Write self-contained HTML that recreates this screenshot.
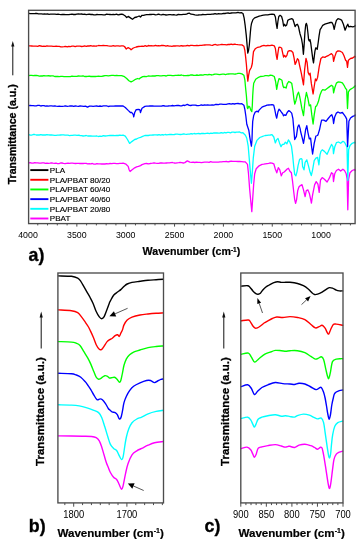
<!DOCTYPE html>
<html><head><meta charset="utf-8"><title>FTIR spectra</title>
<style>html,body{margin:0;padding:0;background:#fff;}body{width:362px;height:550px;position:relative;overflow:hidden;}</style>
</head><body>
<svg width="362" height="550" viewBox="0 0 362 550" style="position:absolute;left:0;top:0">
<polyline points="28.6,162.8 30.1,162.6 31.7,163.1 33.2,163.1 34.7,162.7 36.2,162.9 37.8,162.9 39.3,163.1 40.8,163.2 42.4,162.8 43.9,162.8 45.4,163.3 46.9,163.1 48.5,163.4 50.0,163.2 51.5,162.9 53.0,163.2 54.5,163.4 56.0,163.1 57.5,163.6 59.0,163.6 60.5,163.0 62.0,163.0 63.5,163.4 65.0,163.7 66.5,163.3 68.0,163.2 69.5,163.3 71.0,163.1 72.5,163.2 74.0,163.4 75.5,163.5 77.0,163.3 78.5,163.3 80.0,163.5 81.5,163.3 83.1,163.5 84.6,163.4 86.2,163.3 87.7,163.9 89.2,163.7 90.8,163.8 92.3,163.5 93.8,164.1 95.4,164.1 96.9,163.6 98.5,163.8 100.0,163.9 101.7,164.0 103.3,163.9 105.0,164.0 106.7,163.6 108.3,163.8 110.0,163.5 111.6,163.6 113.3,163.3 114.9,163.4 116.5,163.6 118.2,163.6 119.8,163.3 121.5,163.3 123.1,163.2 126.0,164.2 128.2,166.4 129.2,170.0 130.1,171.5 131.8,170.0 134.7,167.8 136.6,166.8 138.4,166.4 140.5,165.6 142.0,164.6 144.9,163.7 146.6,163.5 148.3,163.8 150.0,163.5 151.0,163.3 152.5,163.2 154.1,163.0 155.6,163.2 157.1,163.3 158.7,163.3 160.2,163.0 161.8,163.0 163.3,163.1 164.8,163.2 166.4,163.0 167.9,162.9 169.4,162.9 171.0,162.6 172.5,162.5 174.0,163.0 175.6,163.1 177.1,162.8 178.7,162.7 180.2,162.5 181.7,162.7 183.3,163.0 184.8,162.6 187.3,160.9 189.8,162.1 191.5,162.3 193.1,162.2 194.8,162.5 196.5,162.1 198.1,162.4 199.8,162.4 201.4,162.7 202.9,162.4 204.5,162.2 206.0,162.1 207.6,162.2 209.1,162.4 210.7,161.7 212.2,162.2 213.8,162.2 215.3,162.2 216.9,162.1 218.4,162.1 220.0,161.8 221.6,161.8 223.2,161.7 224.8,161.6 226.4,161.3 228.0,161.8 229.6,161.5 231.2,161.2 232.8,161.4 234.4,161.3 236.0,161.3 238.0,161.5 239.8,161.5 241.7,161.6 243.5,161.8 245.3,161.9 247.5,164.4 248.5,173.8 249.6,188.4 250.8,201.5 251.8,211.6 252.8,197.1 253.7,184.0 254.7,173.8 256.2,168.7 259.1,165.8 262.0,164.4 263.7,164.2 265.3,163.9 267.0,163.6 268.7,163.4 270.3,162.9 272.0,163.1 273.8,163.8 275.3,169.0 276.8,172.8 278.3,167.6 279.8,169.8 281.3,175.8 282.7,172.8 284.2,172.0 285.7,170.5 287.2,169.0 288.4,168.3 289.9,171.3 291.4,172.8 292.6,181.7 293.6,190.7 294.7,199.6 295.6,203.4 296.6,199.6 297.7,190.7 298.9,187.0 300.4,185.5 302.0,184.7 303.5,189.9 305.1,196.5 306.3,190.7 307.9,189.9 309.3,193.2 310.6,199.0 311.4,203.2 312.6,194.9 314.6,184.9 316.2,181.6 317.9,184.1 319.2,192.4 320.5,180.0 322.2,177.6 324.4,179.3 327.1,182.0 329.3,178.2 331.5,172.7 332.9,173.8 333.5,181.5 334.7,173.8 336.4,170.5 338.5,169.2 340.7,171.1 342.9,169.2 344.5,170.5 346.2,173.8 347.1,179.0 347.8,209.8 348.6,179.3 350.0,172.7 352.2,170.5 354.9,169.4 355.1,170.5" fill="none" stroke="#ff00ff" stroke-width="1.3" stroke-linejoin="round" stroke-linecap="round"/>
<polyline points="28.6,134.7 30.1,135.0 31.7,135.1 33.2,134.5 34.7,134.5 36.2,135.0 37.8,135.0 39.3,135.0 40.8,134.7 42.4,135.0 43.9,135.0 45.4,135.0 46.9,134.7 48.5,134.9 50.0,135.0 51.5,135.0 53.0,135.2 54.5,135.4 56.0,135.4 57.5,135.2 59.0,135.1 60.5,135.0 62.0,134.9 63.5,134.9 65.0,135.2 66.5,135.1 68.0,135.2 69.5,135.6 71.0,135.4 72.5,135.4 74.0,135.2 75.5,135.1 77.0,135.3 78.5,135.2 80.0,135.5 81.5,135.6 83.1,136.0 84.6,135.8 86.2,135.5 87.7,136.0 89.2,136.0 90.8,136.0 92.3,136.2 93.8,136.2 95.4,136.2 96.9,136.0 98.5,136.5 100.0,136.2 101.7,136.4 103.3,135.7 105.0,136.0 106.7,135.9 108.3,135.6 110.0,135.5 111.6,135.5 113.3,135.4 114.9,135.6 116.5,135.3 118.2,135.5 119.8,135.1 121.5,135.4 123.1,135.1 125.3,136.1 127.5,139.5 129.6,143.4 131.8,141.6 134.7,139.5 136.6,139.0 138.4,138.0 140.5,137.3 142.7,136.4 144.9,135.5 146.6,135.4 148.3,135.5 150.0,135.1 151.5,135.2 153.0,135.0 154.6,134.8 156.1,134.8 157.6,135.0 159.1,134.6 160.7,135.1 162.2,134.6 163.7,135.0 165.2,134.5 166.7,134.9 168.3,134.7 169.8,134.5 171.3,134.5 172.8,134.6 174.3,134.5 175.9,134.2 177.4,134.1 178.9,134.3 180.4,134.5 182.0,134.3 183.5,133.8 185.0,134.1 186.5,134.3 188.0,134.2 189.6,134.2 191.1,133.7 192.6,134.0 194.1,133.5 195.7,133.9 197.2,133.6 198.7,133.5 200.2,133.9 201.7,133.3 203.3,133.5 204.8,133.7 206.3,133.3 207.8,133.2 209.3,133.6 210.9,133.2 212.4,133.4 213.9,132.9 215.4,133.0 217.0,132.9 218.5,133.2 220.0,133.0 221.5,132.6 223.0,133.2 224.5,132.5 226.0,132.9 227.5,132.3 229.0,132.4 230.5,132.8 232.0,132.2 233.5,132.2 235.0,132.5 236.5,132.2 238.0,132.2 239.6,132.0 241.3,132.9 242.9,132.7 245.4,135.2 246.7,138.0 248.2,146.2 249.3,159.3 250.4,172.4 251.4,183.3 252.3,172.4 253.3,157.8 254.7,146.2 256.9,140.4 259.8,137.5 262.0,136.7 263.7,136.0 265.3,135.5 267.0,135.4 268.7,135.1 270.3,135.0 272.0,134.7 273.8,137.0 275.3,142.9 276.5,139.9 278.0,138.4 279.5,142.9 281.0,146.7 282.4,144.4 283.9,144.4 285.4,142.2 286.9,143.7 288.4,139.9 289.9,142.2 291.4,145.9 292.6,154.9 293.6,165.3 294.7,174.3 295.9,175.8 297.1,171.3 298.1,165.3 299.6,159.3 301.1,158.6 302.0,159.3 302.6,166.5 304.0,169.8 305.1,162.3 306.8,159.9 308.4,165.7 310.1,172.3 311.3,175.6 312.6,169.8 314.2,160.7 315.9,158.2 317.6,157.4 318.9,164.8 320.0,154.9 320.9,151.4 322.2,149.8 324.4,151.4 327.1,154.2 329.3,149.3 331.5,144.4 332.9,146.5 333.5,153.6 334.7,147.1 336.4,142.7 338.5,142.0 340.7,143.3 342.9,141.3 344.5,142.2 346.2,145.5 347.0,147.6 347.8,180.3 348.6,149.8 350.0,145.5 352.2,143.3 354.9,142.2 355.1,143.0" fill="none" stroke="#00ffff" stroke-width="1.3" stroke-linejoin="round" stroke-linecap="round"/>
<polyline points="28.6,105.6 30.1,105.4 31.7,105.7 33.2,105.6 34.7,105.8 36.2,105.8 37.8,105.4 39.3,105.4 40.8,106.0 42.4,105.6 43.9,105.6 45.4,106.2 46.9,105.8 48.5,106.1 50.0,105.9 51.6,105.9 53.1,106.1 54.7,105.8 56.2,106.1 57.8,106.3 59.3,106.1 60.9,106.3 62.4,106.3 64.0,106.2 65.6,105.9 67.2,106.3 68.8,106.2 70.4,106.0 72.0,105.8 73.6,106.3 75.2,106.0 76.8,106.2 78.4,106.3 80.0,106.0 81.8,106.2 83.7,106.4 85.5,106.2 87.5,107.2 89.5,106.2 91.3,106.1 93.2,106.3 95.0,106.1 96.7,106.0 98.3,106.3 100.0,106.0 101.7,106.3 103.3,105.8 105.0,105.8 106.7,105.9 108.3,106.5 110.0,106.2 111.8,106.1 113.7,106.2 115.5,105.9 117.3,106.0 119.2,106.0 121.2,105.9 123.1,106.0 125.3,107.5 128.2,110.4 130.4,112.5 131.8,112.5 133.3,114.7 133.7,116.9 134.7,112.5 136.2,109.6 138.4,109.3 139.8,109.6 140.5,112.5 141.0,111.1 142.0,108.2 144.9,106.4 146.6,106.2 148.3,106.2 150.0,106.0 151.0,106.0 152.5,106.0 154.1,106.2 155.6,106.1 157.1,106.2 158.7,106.1 160.2,106.2 161.8,106.0 163.3,105.6 164.8,106.0 166.4,106.1 167.9,106.0 169.4,105.8 171.0,105.9 172.5,105.5 174.0,105.9 175.6,105.7 177.1,105.5 178.7,105.3 180.2,105.8 181.7,105.9 183.3,105.2 184.8,105.5 187.3,104.3 189.3,105.3 190.8,105.5 192.3,105.2 193.8,105.1 195.3,105.2 196.8,105.5 198.3,105.6 199.8,105.3 201.4,104.9 202.9,105.3 204.5,104.8 206.0,105.2 207.6,104.9 209.1,105.2 210.7,105.2 212.2,104.8 213.8,105.1 215.3,104.5 216.8,104.3 218.4,104.6 219.9,104.2 221.5,104.2 223.1,104.3 224.6,104.3 226.2,104.3 227.9,103.9 229.5,103.7 231.1,104.2 232.7,103.7 234.4,104.0 236.0,103.6 238.0,103.5 239.9,103.9 241.9,103.7 243.9,105.2 244.9,109.6 245.9,116.5 246.8,124.3 247.8,127.3 248.8,130.2 249.8,137.1 250.6,142.0 251.4,146.2 252.0,140.0 252.3,130.2 252.7,121.4 253.7,115.5 255.2,112.1 257.2,111.1 258.2,112.1 259.1,110.1 262.0,107.1 263.7,106.4 265.3,105.8 267.0,105.2 268.7,105.0 270.3,104.9 272.0,104.6 273.7,105.2 274.8,109.7 275.9,115.4 276.7,118.2 277.9,112.0 279.0,109.2 280.5,110.8 281.6,112.5 282.7,113.7 283.5,115.9 284.6,114.8 285.8,115.4 287.2,112.5 288.7,110.6 290.0,111.4 291.7,113.1 292.9,118.7 293.6,126.6 294.7,139.5 296.4,136.4 297.7,127.3 298.5,125.5 299.0,124.9 300.2,128.9 300.6,131.5 302.3,138.1 303.5,143.3 304.6,136.6 305.6,129.8 306.8,125.7 307.9,132.3 309.3,138.9 310.6,138.1 311.5,146.0 312.6,154.0 314.2,143.3 315.9,136.0 317.6,135.5 318.4,133.4 319.5,129.8 320.9,123.2 321.6,120.2 323.8,120.2 326.0,121.3 328.2,118.5 330.4,115.8 331.8,114.7 332.9,118.0 333.6,123.5 334.7,116.9 336.4,113.1 338.0,112.0 340.2,113.1 342.4,112.5 344.0,114.7 345.6,116.9 346.7,119.1 347.6,146.5 348.9,121.3 350.5,118.0 352.7,116.4 354.9,115.6 355.1,114.9" fill="none" stroke="#0000ff" stroke-width="1.3" stroke-linejoin="round" stroke-linecap="round"/>
<polyline points="28.6,75.6 30.1,75.4 31.7,75.4 33.2,75.6 34.7,75.5 36.2,75.4 37.8,75.7 39.3,76.1 40.8,76.0 42.4,76.0 43.9,75.7 45.4,75.9 46.9,75.8 48.5,75.7 50.0,76.0 51.6,75.8 53.1,75.9 54.7,76.5 56.2,76.5 57.8,76.5 59.3,76.6 60.9,76.3 62.4,76.4 64.0,76.6 65.6,76.6 67.2,76.7 68.8,76.7 70.4,76.7 72.0,76.1 73.6,76.4 75.2,76.4 76.8,76.3 78.4,76.0 80.0,76.2 81.5,76.2 83.1,75.9 84.6,76.5 86.2,76.5 87.7,76.3 89.2,76.1 90.8,76.5 92.3,76.3 93.8,76.5 95.4,76.5 96.9,76.3 98.5,76.2 100.0,76.3 101.7,76.3 103.3,76.0 105.0,75.7 106.7,75.7 108.3,75.9 110.0,75.6 111.7,75.3 113.3,75.3 115.0,75.7 116.6,75.4 118.3,75.6 119.9,75.6 121.6,75.6 124.5,76.7 126.7,78.5 128.9,80.7 131.1,81.9 133.3,80.7 135.5,79.3 137.6,78.5 139.1,79.0 140.5,77.8 142.7,76.7 144.5,76.4 146.3,76.7 148.2,76.0 150.0,76.1 151.7,76.0 153.3,75.8 155.0,76.0 156.7,75.7 158.3,75.7 160.0,75.8 161.5,75.9 163.1,75.6 164.6,75.7 166.2,76.0 167.7,75.4 169.2,75.3 170.8,75.4 172.3,75.7 173.8,75.6 175.4,75.3 176.9,75.3 178.5,75.2 180.0,75.4 181.5,75.0 183.1,75.5 184.6,75.6 186.2,75.6 187.7,75.4 189.2,75.5 190.8,74.8 192.3,75.0 193.8,75.4 195.4,75.3 196.9,75.0 198.5,75.3 200.0,75.0 201.5,75.0 203.0,75.1 204.5,74.7 206.0,74.6 207.5,74.8 209.0,74.5 210.5,74.6 212.0,75.0 213.5,74.5 215.0,74.2 216.5,74.2 218.0,74.3 219.5,74.7 221.0,74.3 222.5,74.2 224.0,74.1 225.5,74.6 227.0,74.2 228.5,74.0 230.0,73.9 231.5,73.8 233.0,73.9 234.5,74.2 236.0,74.0 238.0,73.4 239.9,73.4 241.9,73.9 243.9,75.3 244.9,80.2 245.4,86.0 246.4,95.8 247.3,107.6 247.8,108.6 248.8,106.2 249.8,107.1 250.8,110.1 251.8,111.6 252.3,105.7 252.7,95.8 253.2,88.0 253.7,83.2 255.7,79.3 258.6,77.3 260.3,76.5 262.0,76.3 263.7,76.1 265.3,75.7 267.0,75.7 268.7,75.9 270.3,75.2 272.0,75.3 274.3,76.5 275.6,81.5 276.7,89.4 277.9,82.7 279.0,78.7 280.5,79.3 281.9,80.2 283.0,86.0 283.8,87.7 285.0,87.2 286.1,88.1 287.2,83.8 288.7,81.5 290.0,82.1 291.7,83.2 292.9,90.5 294.0,99.6 294.8,104.1 295.9,100.7 297.4,94.5 298.5,92.2 299.6,96.2 300.7,101.8 301.8,108.2 303.5,115.7 305.1,100.0 306.4,92.5 307.9,98.3 309.3,105.8 310.6,104.9 311.8,114.9 313.1,124.0 314.2,114.9 315.6,106.6 316.7,105.8 318.4,101.6 320.0,95.0 321.7,90.8 322.7,89.6 324.9,90.2 327.1,88.5 329.3,86.9 331.5,85.3 332.9,86.4 333.6,92.9 334.7,88.0 336.4,83.1 338.0,82.0 340.2,82.2 342.4,82.9 344.0,85.3 345.6,88.5 346.7,89.6 347.5,108.5 348.4,91.8 350.0,89.6 352.7,88.0 354.9,86.4 355.1,85.7" fill="none" stroke="#00ff00" stroke-width="1.3" stroke-linejoin="round" stroke-linecap="round"/>
<polyline points="28.6,45.8 30.1,45.9 31.7,46.0 33.2,46.1 34.7,46.2 36.2,46.1 37.8,46.3 39.3,45.7 40.8,46.0 42.4,46.4 43.9,46.2 45.4,46.4 46.9,45.9 48.5,46.1 50.0,46.2 51.6,46.1 53.1,46.3 54.7,46.4 56.2,46.1 57.8,46.3 59.3,46.4 60.9,46.9 62.4,46.8 64.0,46.7 65.6,46.4 67.2,46.8 68.8,46.3 70.4,46.6 72.0,46.2 73.6,46.1 75.2,46.6 76.8,46.1 78.4,46.1 80.0,46.2 81.5,46.5 83.1,46.4 84.6,45.9 86.2,46.3 87.7,46.0 89.2,46.0 90.8,45.7 92.3,46.1 93.8,45.9 95.4,46.1 96.9,46.0 98.5,45.5 100.0,45.6 101.7,45.6 103.3,45.5 105.0,45.6 106.7,45.6 108.3,45.9 110.0,46.1 111.6,46.1 113.3,45.7 114.9,46.1 116.5,45.8 118.2,45.8 119.8,46.1 121.5,45.8 123.1,45.8 124.5,46.5 126.3,49.0 128.2,47.6 130.1,48.7 131.1,49.7 133.3,48.0 136.2,47.0 138.3,46.5 140.5,46.3 142.1,46.2 143.7,46.3 145.2,45.7 146.8,46.3 148.4,45.5 150.0,45.8 151.0,45.6 152.5,45.8 154.0,45.9 155.5,45.3 157.0,45.9 158.5,45.6 160.0,45.8 161.5,45.4 163.0,45.5 164.5,45.6 166.0,46.2 167.5,45.7 169.0,46.1 170.5,46.2 172.0,46.3 173.5,45.9 175.0,46.0 176.6,45.9 178.1,45.9 179.7,46.1 181.2,45.6 182.8,46.0 184.4,45.9 185.9,45.9 187.5,45.3 189.1,45.9 190.6,45.3 192.2,45.4 193.8,45.6 195.3,45.7 196.9,45.3 198.4,45.6 200.0,45.3 201.6,45.3 203.1,45.1 204.7,45.0 206.2,44.9 207.8,44.8 209.4,44.8 210.9,45.1 212.5,45.3 214.1,44.7 215.6,44.5 217.2,45.2 218.8,44.8 220.3,44.7 221.9,44.5 223.4,44.7 225.0,44.6 226.6,44.8 228.1,44.5 229.7,44.5 231.3,44.2 232.9,44.7 234.4,44.1 236.0,44.4 238.0,44.7 239.9,44.8 241.9,44.9 243.9,46.3 244.9,50.7 245.7,57.6 246.4,64.5 247.0,72.4 247.8,81.2 248.6,75.3 249.6,70.4 251.3,67.5 252.3,63.5 252.8,57.6 253.5,51.7 255.2,48.8 257.7,47.3 259.9,46.8 262.0,45.8 263.9,45.4 265.8,45.8 267.7,45.5 269.9,45.7 272.0,45.2 274.3,45.8 275.4,48.6 276.3,55.4 277.1,59.3 277.9,53.1 278.8,47.5 280.1,47.2 281.6,48.0 282.7,53.1 283.6,57.0 284.6,55.4 285.8,57.0 286.9,55.4 288.0,51.4 289.5,50.6 291.2,50.8 292.9,52.5 294.0,57.6 295.1,64.4 296.2,62.1 297.4,58.7 298.5,59.9 299.6,65.5 301.3,73.2 303.5,84.8 304.6,69.9 306.0,58.3 307.1,62.4 308.1,72.4 309.3,74.9 310.1,73.2 311.3,83.2 313.1,94.0 314.2,86.5 315.4,79.0 316.4,80.7 317.6,77.4 319.2,66.6 320.9,58.5 322.7,56.9 324.9,57.4 326.5,56.3 328.7,55.3 331.5,53.6 332.9,55.3 333.6,61.3 334.7,56.9 336.4,52.0 338.0,50.9 340.2,51.2 342.4,52.5 344.0,55.8 345.6,60.2 346.7,61.3 347.5,67.3 348.4,60.2 350.5,58.5 352.7,58.0 354.9,56.3 355.1,57.0" fill="none" stroke="#ff0000" stroke-width="1.3" stroke-linejoin="round" stroke-linecap="round"/>
<polyline points="28.6,13.4 30.2,13.7 31.9,13.7 33.5,13.6 35.1,13.5 36.7,13.3 38.4,13.9 40.0,13.8 41.5,13.8 43.0,14.1 44.5,13.8 46.0,14.1 47.5,13.8 49.0,14.3 50.5,14.2 52.0,14.1 53.5,14.2 55.0,14.2 56.5,14.4 58.0,14.1 59.5,14.4 61.0,14.6 62.5,14.3 64.0,14.5 65.6,14.7 67.2,14.6 68.8,14.7 70.4,14.3 72.0,14.1 73.6,14.5 75.2,14.5 76.8,14.2 78.4,13.9 80.0,14.2 81.5,14.0 83.1,14.4 84.6,14.1 86.2,14.6 87.7,14.4 89.2,14.2 90.8,14.5 92.3,14.3 93.8,14.8 95.4,14.8 96.9,14.5 98.5,14.7 100.0,14.6 101.7,14.7 103.3,14.8 105.0,14.9 106.7,14.2 108.3,14.4 110.0,14.5 111.6,14.6 113.3,14.4 114.9,14.6 116.5,14.2 118.2,14.8 119.8,14.5 121.5,14.2 123.1,14.5 125.3,16.0 126.7,17.5 128.2,16.4 130.4,17.9 132.5,19.3 134.7,17.5 136.9,17.0 139.1,16.0 140.5,17.0 142.0,15.3 143.6,15.3 145.2,14.8 146.8,14.6 148.4,14.6 150.0,14.5 151.0,14.5 152.5,14.3 154.0,14.3 155.5,14.8 157.0,14.7 158.5,14.2 160.0,14.6 161.5,14.8 163.0,14.3 164.5,14.6 166.0,15.0 167.5,14.8 169.0,14.6 170.5,14.7 172.0,14.8 173.5,14.6 175.0,14.9 176.7,15.2 178.3,14.4 180.0,14.6 181.7,14.7 183.3,14.4 185.0,14.4 186.5,14.2 188.0,13.4 189.5,13.2 191.0,14.2 193.0,14.3 195.0,14.8 196.5,15.1 198.1,15.0 199.6,14.8 201.2,14.9 202.7,14.5 204.3,14.7 205.8,14.6 207.4,14.4 208.9,14.3 210.5,14.4 212.0,14.2 213.6,14.0 215.2,13.7 216.9,14.1 218.5,13.7 220.1,13.8 221.8,13.9 223.4,13.4 225.0,13.5 226.6,13.1 228.1,13.0 229.7,13.3 231.3,13.0 232.9,12.8 234.4,12.9 236.0,12.8 238.0,12.4 239.7,12.8 241.3,12.6 243.0,13.5 244.1,17.9 245.2,25.7 246.3,35.6 247.1,45.0 247.8,53.2 248.6,50.0 249.3,45.0 249.9,38.0 250.4,32.0 250.9,27.0 251.5,23.5 252.9,19.6 254.6,17.9 257.3,16.8 259.2,16.1 261.2,15.7 263.4,15.2 265.6,14.9 267.8,14.9 270.0,14.4 272.0,14.2 274.3,14.5 275.4,17.0 276.3,23.8 277.1,28.3 277.9,21.5 278.8,16.5 280.1,15.3 281.6,16.5 282.7,20.4 283.6,26.0 284.6,24.3 285.5,26.0 286.7,24.9 287.8,20.4 289.5,19.3 291.7,18.7 292.9,19.3 294.0,22.7 295.1,26.6 296.2,24.9 297.4,24.3 298.5,26.6 299.4,31.0 300.0,33.7 301.5,38.6 302.5,44.5 303.4,54.3 304.1,45.4 304.9,32.7 305.7,24.8 306.4,23.4 307.1,25.8 307.9,32.7 308.6,39.6 309.3,41.0 310.0,39.6 310.8,43.5 311.8,51.3 312.8,59.2 313.5,62.9 314.2,57.2 314.9,51.3 315.7,47.9 316.5,48.4 317.2,49.4 318.2,42.5 319.1,35.6 320.1,29.7 321.1,28.2 322.7,25.3 324.9,24.2 326.5,23.6 328.2,23.1 330.4,22.5 332.0,22.5 333.1,24.7 334.2,29.4 335.3,24.2 336.4,20.4 338.0,18.7 340.2,19.3 341.8,20.4 343.4,24.2 345.1,30.2 346.4,26.9 347.8,24.2 348.9,26.9 350.5,26.4 352.7,26.9 354.9,26.4 355.1,25.5" fill="none" stroke="#000000" stroke-width="1.3" stroke-linejoin="round" stroke-linecap="round"/>
<line x1="30.3" y1="170.10" x2="48.4" y2="170.10" stroke="#000000" stroke-width="1.9"/>
<text x="49.8" y="173.0" font-family="'Liberation Sans', Arial, sans-serif" font-size="8.1" fill="#000" stroke="#000" stroke-width="0.15">PLA</text>
<line x1="30.3" y1="179.78" x2="48.4" y2="179.78" stroke="#ff0000" stroke-width="1.9"/>
<text x="49.8" y="182.7" font-family="'Liberation Sans', Arial, sans-serif" font-size="8.1" fill="#000" stroke="#000" stroke-width="0.15">PLA/PBAT 80/20</text>
<line x1="30.3" y1="189.46" x2="48.4" y2="189.46" stroke="#00ff00" stroke-width="1.9"/>
<text x="49.8" y="192.4" font-family="'Liberation Sans', Arial, sans-serif" font-size="8.1" fill="#000" stroke="#000" stroke-width="0.15">PLA/PBAT 60/40</text>
<line x1="30.3" y1="199.14" x2="48.4" y2="199.14" stroke="#0000ff" stroke-width="1.9"/>
<text x="49.8" y="202.0" font-family="'Liberation Sans', Arial, sans-serif" font-size="8.1" fill="#000" stroke="#000" stroke-width="0.15">PLA/PBAT 40/60</text>
<line x1="30.3" y1="208.82" x2="48.4" y2="208.82" stroke="#00ffff" stroke-width="1.9"/>
<text x="49.8" y="211.7" font-family="'Liberation Sans', Arial, sans-serif" font-size="8.1" fill="#000" stroke="#000" stroke-width="0.15">PLA/PBAT 20/80</text>
<line x1="30.3" y1="218.50" x2="48.4" y2="218.50" stroke="#ff00ff" stroke-width="1.9"/>
<text x="49.8" y="221.4" font-family="'Liberation Sans', Arial, sans-serif" font-size="8.1" fill="#000" stroke="#000" stroke-width="0.15">PBAT</text>
<rect x="28.6" y="10.3" width="326.5" height="213.3" fill="none" stroke="#4c4c4c" stroke-width="1.35"/>
<line x1="37.77" y1="223.6" x2="37.77" y2="225.4" stroke="#4c4c4c" stroke-width="1"/>
<line x1="47.54" y1="223.6" x2="47.54" y2="225.4" stroke="#4c4c4c" stroke-width="1"/>
<line x1="57.31" y1="223.6" x2="57.31" y2="225.4" stroke="#4c4c4c" stroke-width="1"/>
<line x1="67.08" y1="223.6" x2="67.08" y2="225.4" stroke="#4c4c4c" stroke-width="1"/>
<line x1="76.85" y1="223.6" x2="76.85" y2="226.6" stroke="#4c4c4c" stroke-width="1"/>
<line x1="86.62" y1="223.6" x2="86.62" y2="225.4" stroke="#4c4c4c" stroke-width="1"/>
<line x1="96.39" y1="223.6" x2="96.39" y2="225.4" stroke="#4c4c4c" stroke-width="1"/>
<line x1="106.16" y1="223.6" x2="106.16" y2="225.4" stroke="#4c4c4c" stroke-width="1"/>
<line x1="115.93" y1="223.6" x2="115.93" y2="225.4" stroke="#4c4c4c" stroke-width="1"/>
<line x1="125.70" y1="223.6" x2="125.70" y2="226.6" stroke="#4c4c4c" stroke-width="1"/>
<line x1="135.47" y1="223.6" x2="135.47" y2="225.4" stroke="#4c4c4c" stroke-width="1"/>
<line x1="145.24" y1="223.6" x2="145.24" y2="225.4" stroke="#4c4c4c" stroke-width="1"/>
<line x1="155.01" y1="223.6" x2="155.01" y2="225.4" stroke="#4c4c4c" stroke-width="1"/>
<line x1="164.78" y1="223.6" x2="164.78" y2="225.4" stroke="#4c4c4c" stroke-width="1"/>
<line x1="174.55" y1="223.6" x2="174.55" y2="226.6" stroke="#4c4c4c" stroke-width="1"/>
<line x1="184.32" y1="223.6" x2="184.32" y2="225.4" stroke="#4c4c4c" stroke-width="1"/>
<line x1="194.09" y1="223.6" x2="194.09" y2="225.4" stroke="#4c4c4c" stroke-width="1"/>
<line x1="203.86" y1="223.6" x2="203.86" y2="225.4" stroke="#4c4c4c" stroke-width="1"/>
<line x1="213.63" y1="223.6" x2="213.63" y2="225.4" stroke="#4c4c4c" stroke-width="1"/>
<line x1="223.40" y1="223.6" x2="223.40" y2="226.6" stroke="#4c4c4c" stroke-width="1"/>
<line x1="233.17" y1="223.6" x2="233.17" y2="225.4" stroke="#4c4c4c" stroke-width="1"/>
<line x1="242.94" y1="223.6" x2="242.94" y2="225.4" stroke="#4c4c4c" stroke-width="1"/>
<line x1="252.71" y1="223.6" x2="252.71" y2="225.4" stroke="#4c4c4c" stroke-width="1"/>
<line x1="262.48" y1="223.6" x2="262.48" y2="225.4" stroke="#4c4c4c" stroke-width="1"/>
<line x1="272.25" y1="223.6" x2="272.25" y2="226.6" stroke="#4c4c4c" stroke-width="1"/>
<line x1="282.02" y1="223.6" x2="282.02" y2="225.4" stroke="#4c4c4c" stroke-width="1"/>
<line x1="291.79" y1="223.6" x2="291.79" y2="225.4" stroke="#4c4c4c" stroke-width="1"/>
<line x1="301.56" y1="223.6" x2="301.56" y2="225.4" stroke="#4c4c4c" stroke-width="1"/>
<line x1="311.33" y1="223.6" x2="311.33" y2="225.4" stroke="#4c4c4c" stroke-width="1"/>
<line x1="321.10" y1="223.6" x2="321.10" y2="226.6" stroke="#4c4c4c" stroke-width="1"/>
<line x1="330.87" y1="223.6" x2="330.87" y2="225.4" stroke="#4c4c4c" stroke-width="1"/>
<line x1="340.64" y1="223.6" x2="340.64" y2="225.4" stroke="#4c4c4c" stroke-width="1"/>
<line x1="350.41" y1="223.6" x2="350.41" y2="225.4" stroke="#4c4c4c" stroke-width="1"/>
<text transform="translate(28.00,237.6) scale(1,1.05)" text-anchor="middle" font-family="'Liberation Sans', Arial, sans-serif" font-size="8.8" fill="#000">4000</text>
<text transform="translate(76.85,237.6) scale(1,1.05)" text-anchor="middle" font-family="'Liberation Sans', Arial, sans-serif" font-size="8.8" fill="#000">3500</text>
<text transform="translate(125.70,237.6) scale(1,1.05)" text-anchor="middle" font-family="'Liberation Sans', Arial, sans-serif" font-size="8.8" fill="#000">3000</text>
<text transform="translate(174.55,237.6) scale(1,1.05)" text-anchor="middle" font-family="'Liberation Sans', Arial, sans-serif" font-size="8.8" fill="#000">2500</text>
<text transform="translate(223.40,237.6) scale(1,1.05)" text-anchor="middle" font-family="'Liberation Sans', Arial, sans-serif" font-size="8.8" fill="#000">2000</text>
<text transform="translate(272.25,237.6) scale(1,1.05)" text-anchor="middle" font-family="'Liberation Sans', Arial, sans-serif" font-size="8.8" fill="#000">1500</text>
<text transform="translate(321.10,237.6) scale(1,1.05)" text-anchor="middle" font-family="'Liberation Sans', Arial, sans-serif" font-size="8.8" fill="#000">1000</text>
<text transform="translate(15.9,134.3) rotate(-90)" text-anchor="middle" font-family="'Liberation Sans', Arial, sans-serif" font-size="10.6" font-weight="bold" stroke="#000" stroke-width="0.3" fill="#000">Transmittance (a.u.)</text>
<line x1="12.8" y1="46" x2="12.8" y2="75.3" stroke="#111" stroke-width="1"/>
<polygon points="12.8,41 11.2,46.5 14.4,46.5" fill="#111"/>
<text x="191.4" y="255.4" text-anchor="middle" font-family="'Liberation Sans', Arial, sans-serif" font-size="10.65" font-weight="bold" stroke="#000" stroke-width="0.2" fill="#000">Wavenumber (cm<tspan font-size="6.5" dy="-3.5">-1</tspan><tspan dy="3.5">)</tspan></text>
<text x="28.5" y="261.2" font-family="'Liberation Sans', Arial, sans-serif" font-size="17.8" font-weight="bold" stroke="#000" stroke-width="0.35" fill="#000">a)</text>
<path d="M58.50,435.90 C62.47,435.95 76.78,436.10 82.30,436.20 C87.82,436.30 89.28,436.25 91.60,436.50 C93.92,436.75 94.92,436.98 96.20,437.70 C97.48,438.42 98.38,439.25 99.30,440.80 C100.22,442.35 100.92,444.67 101.70,447.00 C102.48,449.33 103.23,452.22 104.00,454.80 C104.77,457.38 105.58,460.38 106.30,462.50 C107.02,464.62 107.62,465.83 108.30,467.50 C108.98,469.17 109.52,470.87 110.40,472.50 C111.28,474.13 112.53,476.10 113.60,477.30 C114.67,478.50 115.87,478.50 116.80,479.70 C117.73,480.90 118.40,482.90 119.20,484.50 C120.00,486.10 120.93,489.17 121.60,489.30 C122.27,489.43 122.53,487.97 123.20,485.30 C123.87,482.63 124.80,476.90 125.60,473.30 C126.40,469.70 126.93,466.78 128.00,463.70 C129.07,460.62 130.53,456.95 132.00,454.80 C133.47,452.65 135.18,451.87 136.80,450.80 C138.42,449.73 139.82,449.33 141.70,448.40 C143.58,447.47 145.97,446.13 148.10,445.20 C150.23,444.27 151.97,443.42 154.50,442.80 C157.03,442.18 161.83,441.72 163.30,441.50" fill="none" stroke="#ff00ff" stroke-width="1.4" stroke-linejoin="round" stroke-linecap="round"/>
<path d="M58.50,404.80 C60.67,404.85 68.05,404.92 71.50,405.10 C74.95,405.28 76.62,405.43 79.20,405.90 C81.78,406.37 84.67,407.20 87.00,407.90 C89.33,408.60 91.27,409.32 93.20,410.10 C95.13,410.88 97.18,411.37 98.60,412.60 C100.02,413.83 100.67,415.13 101.70,417.50 C102.73,419.87 103.77,423.55 104.80,426.80 C105.83,430.05 106.97,434.07 107.90,437.00 C108.83,439.93 109.45,442.50 110.40,444.40 C111.35,446.30 112.53,447.33 113.60,448.40 C114.67,449.47 115.87,449.60 116.80,450.80 C117.73,452.00 118.40,454.13 119.20,455.60 C120.00,457.07 120.93,459.47 121.60,459.60 C122.27,459.73 122.67,458.67 123.20,456.40 C123.73,454.13 124.27,449.23 124.80,446.00 C125.33,442.77 125.73,439.87 126.40,437.00 C127.07,434.13 127.87,431.18 128.80,428.80 C129.73,426.42 130.67,424.33 132.00,422.70 C133.33,421.07 135.18,419.93 136.80,419.00 C138.42,418.07 139.82,417.97 141.70,417.10 C143.58,416.23 145.70,414.75 148.10,413.80 C150.50,412.85 153.57,411.98 156.10,411.40 C158.63,410.82 162.10,410.48 163.30,410.30" fill="none" stroke="#00ffff" stroke-width="1.4" stroke-linejoin="round" stroke-linecap="round"/>
<path d="M58.50,373.30 C60.67,373.37 68.57,373.43 71.50,373.70 C74.43,373.97 74.55,374.32 76.10,374.90 C77.65,375.48 79.25,376.03 80.80,377.20 C82.35,378.37 84.25,380.60 85.40,381.90 C86.55,383.20 86.80,383.72 87.70,385.00 C88.60,386.28 89.77,387.92 90.80,389.60 C91.83,391.28 92.87,393.42 93.90,395.10 C94.93,396.78 95.97,399.07 97.00,399.70 C98.03,400.33 99.20,398.90 100.10,398.90 C101.00,398.90 101.50,398.92 102.40,399.70 C103.30,400.48 104.52,402.13 105.50,403.60 C106.48,405.07 107.62,407.47 108.30,408.50 C108.98,409.53 108.98,409.23 109.60,409.80 C110.22,410.37 111.07,411.43 112.00,411.90 C112.93,412.37 114.32,412.15 115.20,412.60 C116.08,413.05 116.63,413.58 117.30,414.60 C117.97,415.62 118.62,418.15 119.20,418.70 C119.78,419.25 120.27,419.12 120.80,417.90 C121.33,416.68 121.87,413.95 122.40,411.40 C122.93,408.85 123.33,405.13 124.00,402.60 C124.67,400.07 125.47,398.20 126.40,396.20 C127.33,394.20 128.40,392.25 129.60,390.60 C130.80,388.95 131.87,387.58 133.60,386.30 C135.33,385.02 137.85,383.87 140.00,382.90 C142.15,381.93 144.75,380.90 146.50,380.50 C148.25,380.10 149.17,380.15 150.50,380.50 C151.83,380.85 153.30,382.52 154.50,382.60 C155.70,382.68 156.63,381.53 157.70,381.00 C158.77,380.47 159.97,379.75 160.90,379.40 C161.83,379.05 162.90,378.98 163.30,378.90" fill="none" stroke="#0000ff" stroke-width="1.4" stroke-linejoin="round" stroke-linecap="round"/>
<path d="M58.50,341.60 C60.67,341.68 68.57,341.83 71.50,342.10 C74.43,342.37 74.68,342.63 76.10,343.20 C77.52,343.77 78.70,344.08 80.00,345.50 C81.30,346.92 82.62,349.63 83.90,351.70 C85.18,353.77 86.55,355.83 87.70,357.90 C88.85,359.97 89.77,361.78 90.80,364.10 C91.83,366.42 93.00,369.62 93.90,371.80 C94.80,373.98 95.42,375.97 96.20,377.20 C96.98,378.43 97.82,379.02 98.60,379.20 C99.38,379.38 100.27,378.63 100.90,378.30 C101.53,377.97 101.75,377.63 102.40,377.20 C103.05,376.77 104.02,375.88 104.80,375.70 C105.58,375.52 106.33,375.72 107.10,376.10 C107.87,376.48 108.72,377.72 109.40,378.00 C110.08,378.28 110.37,377.92 111.20,377.80 C112.03,377.68 113.47,377.12 114.40,377.30 C115.33,377.48 116.00,378.10 116.80,378.90 C117.60,379.70 118.53,381.83 119.20,382.10 C119.87,382.37 120.27,381.97 120.80,380.50 C121.33,379.03 121.87,375.83 122.40,373.30 C122.93,370.77 123.33,367.72 124.00,365.30 C124.67,362.88 125.47,360.55 126.40,358.80 C127.33,357.05 128.40,355.92 129.60,354.80 C130.80,353.68 131.87,352.90 133.60,352.10 C135.33,351.30 137.58,350.75 140.00,350.00 C142.42,349.25 145.42,348.18 148.10,347.60 C150.78,347.02 153.57,346.77 156.10,346.50 C158.63,346.23 162.10,346.08 163.30,346.00" fill="none" stroke="#00ff00" stroke-width="1.4" stroke-linejoin="round" stroke-linecap="round"/>
<path d="M58.50,309.90 C60.67,310.03 68.30,310.25 71.50,310.70 C74.70,311.15 76.03,311.57 77.70,312.60 C79.37,313.63 80.22,315.28 81.50,316.90 C82.78,318.52 84.23,320.62 85.40,322.30 C86.57,323.98 87.73,325.72 88.50,327.00 C89.27,328.28 89.22,328.33 90.00,330.00 C90.78,331.67 92.17,334.55 93.20,337.00 C94.23,339.45 95.18,342.65 96.20,344.70 C97.22,346.75 98.38,348.53 99.30,349.30 C100.22,350.07 100.92,349.80 101.70,349.30 C102.48,348.80 103.10,347.58 104.00,346.30 C104.90,345.02 106.07,342.77 107.10,341.60 C108.13,340.43 109.38,339.82 110.20,339.30 C111.02,338.78 111.17,339.12 112.00,338.50 C112.83,337.88 114.27,336.22 115.20,335.60 C116.13,334.98 116.93,334.67 117.60,334.80 C118.27,334.93 118.67,336.67 119.20,336.40 C119.73,336.13 120.27,334.27 120.80,333.20 C121.33,332.13 121.87,331.38 122.40,330.00 C122.93,328.62 123.20,326.55 124.00,324.90 C124.80,323.25 125.87,321.38 127.20,320.10 C128.53,318.82 129.87,318.05 132.00,317.20 C134.13,316.35 137.33,315.53 140.00,315.00 C142.67,314.47 145.32,314.28 148.00,314.00 C150.68,313.72 153.55,313.48 156.10,313.30 C158.65,313.12 162.10,312.97 163.30,312.90" fill="none" stroke="#ff0000" stroke-width="1.4" stroke-linejoin="round" stroke-linecap="round"/>
<path d="M58.50,275.90 C60.67,275.97 68.30,275.92 71.50,276.30 C74.70,276.68 76.15,277.37 77.70,278.20 C79.25,279.03 79.77,279.88 80.80,281.30 C81.83,282.72 82.87,284.90 83.90,286.70 C84.93,288.50 85.97,290.30 87.00,292.10 C88.03,293.90 89.07,295.57 90.10,297.50 C91.13,299.43 92.18,301.37 93.20,303.70 C94.22,306.03 95.18,309.30 96.20,311.50 C97.22,313.70 98.38,315.70 99.30,316.90 C100.22,318.10 100.92,318.70 101.70,318.70 C102.48,318.70 103.10,318.48 104.00,316.90 C104.90,315.32 106.20,311.52 107.10,309.20 C108.00,306.88 108.85,304.40 109.40,303.00 C109.95,301.60 109.70,302.10 110.40,300.80 C111.10,299.50 112.40,296.67 113.60,295.20 C114.80,293.73 116.40,292.93 117.60,292.00 C118.80,291.07 119.73,290.53 120.80,289.60 C121.87,288.67 122.93,287.33 124.00,286.40 C125.07,285.47 125.87,284.67 127.20,284.00 C128.53,283.33 129.87,282.85 132.00,282.40 C134.13,281.95 137.33,281.65 140.00,281.30 C142.67,280.95 145.32,280.57 148.00,280.30 C150.68,280.03 153.55,279.88 156.10,279.70 C158.65,279.52 162.10,279.28 163.30,279.20" fill="none" stroke="#000000" stroke-width="1.4" stroke-linejoin="round" stroke-linecap="round"/>
<rect x="57.9" y="273.0" width="105.6" height="229.9" fill="none" stroke="#4c4c4c" stroke-width="1.35"/>
<line x1="64.83" y1="502.9" x2="64.83" y2="505.09999999999997" stroke="#4c4c4c" stroke-width="1"/>
<line x1="73.70" y1="502.9" x2="73.70" y2="506.7" stroke="#4c4c4c" stroke-width="1"/>
<line x1="82.57" y1="502.9" x2="82.57" y2="505.09999999999997" stroke="#4c4c4c" stroke-width="1"/>
<line x1="91.43" y1="502.9" x2="91.43" y2="505.09999999999997" stroke="#4c4c4c" stroke-width="1"/>
<line x1="100.30" y1="502.9" x2="100.30" y2="505.09999999999997" stroke="#4c4c4c" stroke-width="1"/>
<line x1="109.17" y1="502.9" x2="109.17" y2="505.09999999999997" stroke="#4c4c4c" stroke-width="1"/>
<line x1="118.03" y1="502.9" x2="118.03" y2="505.09999999999997" stroke="#4c4c4c" stroke-width="1"/>
<line x1="126.90" y1="502.9" x2="126.90" y2="506.7" stroke="#4c4c4c" stroke-width="1"/>
<line x1="135.77" y1="502.9" x2="135.77" y2="505.09999999999997" stroke="#4c4c4c" stroke-width="1"/>
<line x1="144.63" y1="502.9" x2="144.63" y2="505.09999999999997" stroke="#4c4c4c" stroke-width="1"/>
<line x1="153.50" y1="502.9" x2="153.50" y2="505.09999999999997" stroke="#4c4c4c" stroke-width="1"/>
<line x1="162.37" y1="502.9" x2="162.37" y2="505.09999999999997" stroke="#4c4c4c" stroke-width="1"/>
<text transform="translate(73.70,517.6) scale(1,1.13)" text-anchor="middle" font-family="'Liberation Sans', Arial, sans-serif" font-size="9.4" fill="#000">1800</text>
<text transform="translate(126.90,517.6) scale(1,1.13)" text-anchor="middle" font-family="'Liberation Sans', Arial, sans-serif" font-size="9.4" fill="#000">1700</text>
<text transform="translate(43.8,411.6) rotate(-90)" text-anchor="middle" font-family="'Liberation Sans', Arial, sans-serif" font-size="11.5" font-weight="bold" stroke="#000" stroke-width="0.3" fill="#000">Transmittance (a.u.)</text>
<line x1="41.2" y1="316" x2="41.2" y2="348.5" stroke="#111" stroke-width="1"/>
<polygon points="41.2,311.6 39.6,317.4 42.8,317.4" fill="#111"/>
<text x="110.6" y="536.8" text-anchor="middle" font-family="'Liberation Sans', Arial, sans-serif" font-size="11.6" font-weight="bold" stroke="#000" stroke-width="0.2" fill="#000">Wavenumber (cm<tspan font-size="7" dy="-4">-1</tspan><tspan dy="4">)</tspan></text>
<text x="28.8" y="532.4" font-family="'Liberation Sans', Arial, sans-serif" font-size="17.8" font-weight="bold" stroke="#000" stroke-width="0.35" fill="#000">b)</text>
<line x1="127.6" y1="308.3" x2="115.08" y2="313.81" stroke="#444" stroke-width="0.9"/><polygon points="109.4,316.3 116.24,316.46 113.91,311.15" fill="#000"/>
<line x1="143.7" y1="490.5" x2="133.47" y2="486.00" stroke="#444" stroke-width="0.9"/><polygon points="127.8,483.5 132.31,488.65 134.64,483.34" fill="#000"/>
<path d="M241.30,448.60 C242.25,448.35 245.43,446.90 247.00,447.10 C248.57,447.30 249.72,448.60 250.70,449.80 C251.68,451.00 252.28,453.07 252.90,454.30 C253.52,455.53 253.85,457.20 254.40,457.20 C254.95,457.20 255.58,455.78 256.20,454.30 C256.82,452.82 257.15,449.55 258.10,448.30 C259.05,447.05 260.27,447.25 261.90,446.80 C263.53,446.35 265.67,445.97 267.90,445.60 C270.13,445.23 273.07,444.53 275.30,444.60 C277.53,444.67 279.68,445.58 281.30,446.00 C282.92,446.42 283.77,447.05 285.00,447.10 C286.23,447.15 287.87,446.43 288.70,446.30 C289.53,446.17 289.03,446.10 290.00,446.30 C290.97,446.50 293.00,447.68 294.50,447.50 C296.00,447.32 297.27,445.75 299.00,445.20 C300.73,444.65 302.92,444.12 304.90,444.20 C306.88,444.28 309.28,445.15 310.90,445.70 C312.52,446.25 313.48,446.90 314.60,447.50 C315.72,448.10 316.60,449.35 317.60,449.30 C318.60,449.25 319.85,447.38 320.60,447.20 C321.35,447.02 321.60,446.92 322.10,448.20 C322.60,449.48 322.98,451.53 323.60,454.90 C324.22,458.27 325.05,463.67 325.80,468.40 C326.55,473.13 327.47,479.95 328.10,483.30 C328.73,486.65 329.12,488.75 329.60,488.50 C330.08,488.25 330.52,484.90 331.00,481.80 C331.48,478.70 332.00,473.63 332.50,469.90 C333.00,466.17 333.37,462.02 334.00,459.40 C334.63,456.78 335.42,455.40 336.30,454.20 C337.18,453.00 338.25,452.70 339.30,452.20 C340.35,451.70 342.05,451.37 342.60,451.20" fill="none" stroke="#ff00ff" stroke-width="1.4" stroke-linejoin="round" stroke-linecap="round"/>
<path d="M241.30,418.40 C242.37,418.20 246.13,416.95 247.70,417.20 C249.27,417.45 249.83,418.70 250.70,419.90 C251.57,421.10 252.28,423.20 252.90,424.40 C253.52,425.60 253.90,427.10 254.40,427.10 C254.90,427.10 255.28,425.72 255.90,424.40 C256.52,423.08 257.10,420.40 258.10,419.20 C259.10,418.00 260.27,417.78 261.90,417.20 C263.53,416.62 265.67,416.12 267.90,415.70 C270.13,415.28 273.07,414.62 275.30,414.70 C277.53,414.78 279.55,416.03 281.30,416.20 C283.05,416.37 284.35,415.63 285.80,415.70 C287.25,415.77 288.55,416.37 290.00,416.60 C291.45,416.83 293.25,417.27 294.50,417.10 C295.75,416.93 296.02,416.10 297.50,415.60 C298.98,415.10 301.42,414.18 303.40,414.10 C305.38,414.02 307.65,414.55 309.40,415.10 C311.15,415.65 312.53,416.77 313.90,417.40 C315.27,418.03 316.37,418.78 317.60,418.90 C318.83,419.02 320.30,417.48 321.30,418.10 C322.30,418.72 322.97,420.23 323.60,422.60 C324.23,424.97 324.53,428.45 325.10,432.30 C325.67,436.15 326.43,441.92 327.00,445.70 C327.57,449.48 328.07,452.97 328.50,455.00 C328.93,457.03 329.25,458.07 329.60,457.90 C329.95,457.73 330.28,456.27 330.60,454.00 C330.92,451.73 331.15,447.53 331.50,444.30 C331.85,441.07 332.15,437.60 332.70,434.60 C333.25,431.60 333.95,428.30 334.80,426.30 C335.65,424.30 336.50,423.47 337.80,422.60 C339.10,421.73 341.80,421.35 342.60,421.10" fill="none" stroke="#00ffff" stroke-width="1.4" stroke-linejoin="round" stroke-linecap="round"/>
<path d="M241.30,386.60 C242.37,386.30 246.02,384.48 247.70,384.80 C249.38,385.12 250.28,386.88 251.40,388.50 C252.52,390.12 253.40,394.00 254.40,394.50 C255.40,395.00 256.15,392.67 257.40,391.50 C258.65,390.33 260.15,388.62 261.90,387.50 C263.65,386.38 265.67,385.63 267.90,384.80 C270.13,383.97 272.82,382.70 275.30,382.50 C277.78,382.30 280.35,383.35 282.80,383.60 C285.25,383.85 288.05,383.85 290.00,384.00 C291.95,384.15 293.00,384.62 294.50,384.50 C296.00,384.38 297.27,383.38 299.00,383.30 C300.73,383.22 302.92,383.38 304.90,384.00 C306.88,384.62 309.03,386.07 310.90,387.00 C312.77,387.93 314.73,389.42 316.10,389.60 C317.47,389.78 318.23,388.45 319.10,388.10 C319.97,387.75 320.55,386.82 321.30,387.50 C322.05,388.18 322.97,390.45 323.60,392.20 C324.23,393.95 324.62,395.70 325.10,398.00 C325.58,400.30 326.05,403.33 326.50,406.00 C326.95,408.67 327.37,411.80 327.80,414.00 C328.23,416.20 328.65,419.12 329.10,419.20 C329.55,419.28 330.05,416.87 330.50,414.50 C330.95,412.13 331.33,407.75 331.80,405.00 C332.27,402.25 332.80,399.97 333.30,398.00 C333.80,396.03 333.80,394.42 334.80,393.20 C335.80,391.98 338.00,391.23 339.30,390.70 C340.60,390.17 342.05,390.12 342.60,390.00" fill="none" stroke="#0000ff" stroke-width="1.4" stroke-linejoin="round" stroke-linecap="round"/>
<path d="M241.30,354.20 C242.48,354.02 246.72,352.60 248.40,353.10 C250.08,353.60 250.35,355.70 251.40,357.20 C252.45,358.70 253.45,361.85 254.70,362.10 C255.95,362.35 257.20,360.02 258.90,358.70 C260.60,357.38 263.03,355.28 264.90,354.20 C266.77,353.12 268.37,352.83 270.10,352.20 C271.83,351.57 273.43,350.65 275.30,350.40 C277.17,350.15 279.55,350.57 281.30,350.70 C283.05,350.83 284.35,351.20 285.80,351.20 C287.25,351.20 288.05,350.78 290.00,350.70 C291.95,350.62 295.02,350.37 297.50,350.70 C299.98,351.03 302.67,351.75 304.90,352.70 C307.13,353.65 309.15,355.33 310.90,356.40 C312.65,357.47 314.15,358.80 315.40,359.10 C316.65,359.40 317.42,358.60 318.40,358.20 C319.38,357.80 320.43,356.50 321.30,356.70 C322.17,356.90 322.85,357.33 323.60,359.40 C324.35,361.47 325.18,366.42 325.80,369.10 C326.42,371.78 326.85,373.88 327.30,375.50 C327.75,377.12 328.10,378.80 328.50,378.80 C328.90,378.80 329.35,376.75 329.70,375.50 C330.05,374.25 330.13,373.62 330.60,371.30 C331.07,368.98 331.55,363.63 332.50,361.60 C333.45,359.57 334.93,359.58 336.30,359.10 C337.67,358.62 339.65,358.77 340.70,358.70 C341.75,358.63 342.28,358.70 342.60,358.70" fill="none" stroke="#00ff00" stroke-width="1.4" stroke-linejoin="round" stroke-linecap="round"/>
<path d="M241.30,320.80 C242.48,320.67 246.83,319.75 248.40,320.00 C249.97,320.25 249.95,321.30 250.70,322.30 C251.45,323.30 252.15,325.02 252.90,326.00 C253.65,326.98 254.45,327.88 255.20,328.20 C255.95,328.52 256.53,328.27 257.40,327.90 C258.27,327.53 259.28,326.82 260.40,326.00 C261.52,325.18 262.85,323.87 264.10,323.00 C265.35,322.13 266.53,321.55 267.90,320.80 C269.27,320.05 270.82,319.13 272.30,318.50 C273.78,317.87 275.05,317.17 276.80,317.00 C278.55,316.83 280.60,317.57 282.80,317.50 C285.00,317.43 287.55,316.60 290.00,316.60 C292.45,316.60 295.02,317.00 297.50,317.50 C299.98,318.00 302.67,318.43 304.90,319.60 C307.13,320.77 309.15,323.12 310.90,324.50 C312.65,325.88 314.03,327.53 315.40,327.90 C316.77,328.27 317.98,327.13 319.10,326.70 C320.22,326.27 321.10,325.05 322.10,325.30 C323.10,325.55 324.23,326.97 325.10,328.20 C325.97,329.43 326.68,331.75 327.30,332.70 C327.92,333.65 328.25,334.40 328.80,333.90 C329.35,333.40 329.85,331.27 330.60,329.70 C331.35,328.13 332.35,325.43 333.30,324.50 C334.25,323.57 334.75,323.97 336.30,324.10 C337.85,324.23 341.55,325.10 342.60,325.30" fill="none" stroke="#ff0000" stroke-width="1.4" stroke-linejoin="round" stroke-linecap="round"/>
<path d="M241.30,286.10 C242.37,286.03 246.27,285.52 247.70,285.70 C249.13,285.88 249.03,286.33 249.90,287.20 C250.77,288.07 251.90,289.83 252.90,290.90 C253.90,291.97 255.03,293.05 255.90,293.60 C256.77,294.15 257.35,294.27 258.10,294.20 C258.85,294.13 259.65,293.87 260.40,293.20 C261.15,292.53 261.73,291.20 262.60,290.20 C263.47,289.20 264.48,288.07 265.60,287.20 C266.72,286.33 267.93,285.75 269.30,285.00 C270.67,284.25 272.42,283.25 273.80,282.70 C275.18,282.15 276.35,281.75 277.60,281.70 C278.85,281.65 279.93,282.30 281.30,282.40 C282.67,282.50 284.35,282.32 285.80,282.30 C287.25,282.28 288.05,282.10 290.00,282.30 C291.95,282.50 295.27,282.93 297.50,283.50 C299.73,284.07 301.67,284.83 303.40,285.70 C305.13,286.57 306.53,287.58 307.90,288.70 C309.27,289.82 310.48,291.43 311.60,292.40 C312.72,293.37 313.60,294.20 314.60,294.50 C315.60,294.80 316.35,294.60 317.60,294.20 C318.85,293.80 320.60,292.95 322.10,292.10 C323.60,291.25 325.35,289.85 326.60,289.10 C327.85,288.35 328.62,287.75 329.60,287.60 C330.58,287.45 331.38,287.77 332.50,288.20 C333.62,288.63 335.17,289.75 336.30,290.20 C337.43,290.65 338.25,290.78 339.30,290.90 C340.35,291.02 342.05,290.90 342.60,290.90" fill="none" stroke="#000000" stroke-width="1.4" stroke-linejoin="round" stroke-linecap="round"/>
<rect x="240.8" y="273.0" width="102.2" height="229.9" fill="none" stroke="#4c4c4c" stroke-width="1.35"/>
<line x1="240.80" y1="502.9" x2="240.80" y2="506.7" stroke="#4c4c4c" stroke-width="1"/>
<line x1="245.91" y1="502.9" x2="245.91" y2="505.09999999999997" stroke="#4c4c4c" stroke-width="1"/>
<line x1="251.02" y1="502.9" x2="251.02" y2="505.09999999999997" stroke="#4c4c4c" stroke-width="1"/>
<line x1="256.13" y1="502.9" x2="256.13" y2="505.09999999999997" stroke="#4c4c4c" stroke-width="1"/>
<line x1="261.24" y1="502.9" x2="261.24" y2="505.09999999999997" stroke="#4c4c4c" stroke-width="1"/>
<line x1="266.35" y1="502.9" x2="266.35" y2="506.7" stroke="#4c4c4c" stroke-width="1"/>
<line x1="271.46" y1="502.9" x2="271.46" y2="505.09999999999997" stroke="#4c4c4c" stroke-width="1"/>
<line x1="276.57" y1="502.9" x2="276.57" y2="505.09999999999997" stroke="#4c4c4c" stroke-width="1"/>
<line x1="281.68" y1="502.9" x2="281.68" y2="505.09999999999997" stroke="#4c4c4c" stroke-width="1"/>
<line x1="286.79" y1="502.9" x2="286.79" y2="505.09999999999997" stroke="#4c4c4c" stroke-width="1"/>
<line x1="291.90" y1="502.9" x2="291.90" y2="506.7" stroke="#4c4c4c" stroke-width="1"/>
<line x1="297.01" y1="502.9" x2="297.01" y2="505.09999999999997" stroke="#4c4c4c" stroke-width="1"/>
<line x1="302.12" y1="502.9" x2="302.12" y2="505.09999999999997" stroke="#4c4c4c" stroke-width="1"/>
<line x1="307.23" y1="502.9" x2="307.23" y2="505.09999999999997" stroke="#4c4c4c" stroke-width="1"/>
<line x1="312.34" y1="502.9" x2="312.34" y2="505.09999999999997" stroke="#4c4c4c" stroke-width="1"/>
<line x1="317.45" y1="502.9" x2="317.45" y2="506.7" stroke="#4c4c4c" stroke-width="1"/>
<line x1="322.56" y1="502.9" x2="322.56" y2="505.09999999999997" stroke="#4c4c4c" stroke-width="1"/>
<line x1="327.67" y1="502.9" x2="327.67" y2="505.09999999999997" stroke="#4c4c4c" stroke-width="1"/>
<line x1="332.78" y1="502.9" x2="332.78" y2="505.09999999999997" stroke="#4c4c4c" stroke-width="1"/>
<line x1="337.89" y1="502.9" x2="337.89" y2="505.09999999999997" stroke="#4c4c4c" stroke-width="1"/>
<line x1="343.00" y1="502.9" x2="343.00" y2="506.7" stroke="#4c4c4c" stroke-width="1"/>
<text transform="translate(240.80,517.7) scale(1,1.12)" text-anchor="middle" font-family="'Liberation Sans', Arial, sans-serif" font-size="9.4" fill="#000">900</text>
<text transform="translate(266.35,517.7) scale(1,1.12)" text-anchor="middle" font-family="'Liberation Sans', Arial, sans-serif" font-size="9.4" fill="#000">850</text>
<text transform="translate(291.90,517.7) scale(1,1.12)" text-anchor="middle" font-family="'Liberation Sans', Arial, sans-serif" font-size="9.4" fill="#000">800</text>
<text transform="translate(317.45,517.7) scale(1,1.12)" text-anchor="middle" font-family="'Liberation Sans', Arial, sans-serif" font-size="9.4" fill="#000">750</text>
<text transform="translate(343.00,517.7) scale(1,1.12)" text-anchor="middle" font-family="'Liberation Sans', Arial, sans-serif" font-size="9.4" fill="#000">700</text>
<text transform="translate(228.6,411.6) rotate(-90)" text-anchor="middle" font-family="'Liberation Sans', Arial, sans-serif" font-size="11.5" font-weight="bold" stroke="#000" stroke-width="0.3" fill="#000">Transmittance (a.u.)</text>
<line x1="223.8" y1="316" x2="223.8" y2="348.5" stroke="#111" stroke-width="1"/>
<polygon points="223.8,311.6 222.2,317.4 225.4,317.4" fill="#111"/>
<text x="291.6" y="536.6" text-anchor="middle" font-family="'Liberation Sans', Arial, sans-serif" font-size="11.6" font-weight="bold" stroke="#000" stroke-width="0.2" fill="#000">Wavenumber (cm<tspan font-size="7" dy="-4">-1</tspan><tspan dy="4">)</tspan></text>
<text x="204.6" y="532.4" font-family="'Liberation Sans', Arial, sans-serif" font-size="17.8" font-weight="bold" stroke="#000" stroke-width="0.35" fill="#000">c)</text>
<line x1="262.5" y1="313.0" x2="259.18" y2="303.30" stroke="#444" stroke-width="0.9"/><polygon points="257.4,298.1 257.29,303.95 261.07,302.66" fill="#000"/>
<line x1="301.5" y1="304.6" x2="306.58" y2="299.85" stroke="#444" stroke-width="0.9"/><polygon points="310.6,296.1 305.08,298.25 308.08,301.46" fill="#000"/>
</svg>
</body></html>
